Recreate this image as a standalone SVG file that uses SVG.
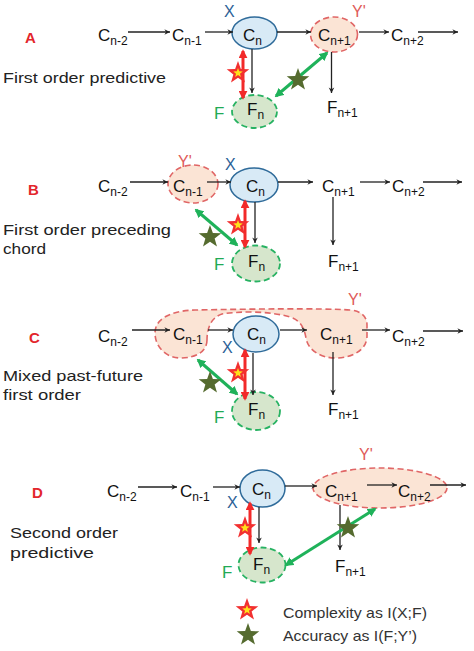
<svg xmlns="http://www.w3.org/2000/svg" xmlns:xlink="http://www.w3.org/1999/xlink" width="474" height="651" viewBox="0 0 474 651">
<defs>
<style>
text{font-family:"Liberation Sans",Arial,sans-serif}
.lbl{font-size:17px;fill:#111}
.sub{font-size:12px}
.pl{font-size:15px;font-weight:bold;fill:#e3262c}
.desc{font-size:15.5px;fill:#222}
.xl{font-size:16px;fill:#2c5f97}
.yl{font-size:16px;fill:#e05a5a}
.fl{font-size:17px;fill:#22aa55}
.leg{font-size:14.5px;fill:#333}
.ar{stroke:#222;stroke-width:1.3;fill:none;marker-end:url(#ah)}
.red{stroke:#f22a2a;stroke-width:3;fill:none;marker-start:url(#rh);marker-end:url(#rh)}
.grn{stroke:#1fb25a;stroke-width:3;fill:none;marker-start:url(#gh);marker-end:url(#gh)}
.ce{fill:#d8eaf6;stroke:#2f6b9a;stroke-width:1.5}
.ye{fill:#fbe4d5;stroke:#e06666;stroke-width:1.6;stroke-dasharray:6 3.5}
.fe{fill:#d6e6cc;stroke:#27b262;stroke-width:1.8;stroke-dasharray:6 3.5}
</style>
<marker id="ah" viewBox="0 0 10 10" refX="9" refY="5" markerWidth="7" markerHeight="7" orient="auto" markerUnits="userSpaceOnUse">
<path d="M1,1 L9,5 L1,9 L3.5,5 z" fill="#222"/>
</marker>
<marker id="rh" viewBox="0 0 10 10" refX="8" refY="5" markerWidth="9" markerHeight="9" orient="auto-start-reverse" markerUnits="userSpaceOnUse">
<path d="M0,0 L10,5 L0,10 z" fill="#f22a2a"/>
</marker>
<marker id="gh" viewBox="0 0 10 10" refX="8" refY="5" markerWidth="9" markerHeight="9" orient="auto-start-reverse" markerUnits="userSpaceOnUse">
<path d="M0,0 L10,5 L0,10 z" fill="#1fb25a"/>
</marker>
<polygon id="star" points="0,-11 2.65,-3.64 10.46,-3.4 4.28,1.39 6.47,8.9 0,4.5 -6.47,8.9 -4.28,1.39 -10.46,-3.4 -2.65,-3.64"/>
<g id="rstar"><use xlink:href="#star" href="#star" fill="#f23030" transform="scale(1.08)"/><use xlink:href="#star" href="#star" fill="#ffe21a" transform="scale(0.45)"/></g>
<g id="gstar"><use xlink:href="#star" href="#star" fill="#556b2f" transform="scale(1.08)"/></g>
</defs>
<rect width="474" height="651" fill="#fff"/>

<!-- Panel A -->
<g id="panelA">
<text class="pl" x="25" y="43">A</text>
<text class="desc" x="3" y="83" textLength="163" lengthAdjust="spacingAndGlyphs">First order predictive</text>
<g id="A-Cn-2"><text class="lbl" x="98" y="41">C<tspan class="sub" dy="4">n-2</tspan></text></g>
<g id="A-Cn-1"><text class="lbl" x="172" y="41">C<tspan class="sub" dy="4">n-1</tspan></text></g>
<g id="A-Cn"><ellipse class="ce" cx="254.5" cy="33" rx="22.5" ry="16"/><text class="lbl" x="243" y="41">C<tspan class="sub" dy="4">n</tspan></text><text class="xl" x="224" y="17">X</text></g>
<g id="A-Cn+1"><ellipse class="ye" cx="334" cy="34.5" rx="23.5" ry="17.5"/><text class="lbl" x="318" y="41">C<tspan class="sub" dy="4">n+1</tspan></text><text class="yl" x="352" y="17">Y'</text></g>
<g id="A-Cn+2"><text class="lbl" x="391" y="41">C<tspan class="sub" dy="4">n+2</tspan></text></g>
<g id="A-Fn"><ellipse class="fe" cx="254.5" cy="111.5" rx="22.5" ry="16.5"/><text class="lbl" x="247" y="115">F<tspan class="sub" dy="4">n</tspan></text><text class="fl" x="214" y="119">F</text></g>
<g id="A-Fn+1"><text class="lbl" x="327" y="113">F<tspan class="sub" dy="4">n+1</tspan></text></g>
</g>

<!-- Panel B -->
<g id="panelB">
<text class="pl" x="28" y="195">B</text>
<text class="desc" x="3" y="235" textLength="168" lengthAdjust="spacingAndGlyphs">First order preceding</text>
<text class="desc" x="3" y="254" textLength="43" lengthAdjust="spacingAndGlyphs">chord</text>
<g id="B-Cn-2"><text class="lbl" x="98" y="192">C<tspan class="sub" dy="4">n-2</tspan></text></g>
<g id="B-Cn-1"><ellipse class="ye" cx="193" cy="184" rx="25" ry="19"/><text class="lbl" x="173" y="192">C<tspan class="sub" dy="4">n-1</tspan></text><text class="yl" x="178" y="167">Y'</text></g>
<g id="B-Cn"><ellipse class="ce" cx="254" cy="185" rx="24" ry="17"/><text class="lbl" x="246" y="192">C<tspan class="sub" dy="4">n</tspan></text><text class="xl" x="225" y="170">X</text></g>
<g id="B-Cn+1"><text class="lbl" x="322" y="192">C<tspan class="sub" dy="4">n+1</tspan></text></g>
<g id="B-Cn+2"><text class="lbl" x="392" y="192">C<tspan class="sub" dy="4">n+2</tspan></text></g>
<g id="B-Fn"><ellipse class="fe" cx="256" cy="263.5" rx="24" ry="18"/><text class="lbl" x="248" y="267">F<tspan class="sub" dy="4">n</tspan></text><text class="fl" x="214" y="270">F</text></g>
<g id="B-Fn+1"><text class="lbl" x="328" y="267">F<tspan class="sub" dy="4">n+1</tspan></text></g>
</g>

<!-- Panel C -->
<g id="panelC">
<text class="pl" x="29" y="343">C</text>
<text class="desc" x="3" y="381" textLength="140" lengthAdjust="spacingAndGlyphs">Mixed past-future</text>
<text class="desc" x="3" y="400" textLength="78" lengthAdjust="spacingAndGlyphs">first order</text>
<g id="C-Y"><path class="ye" d="M207,340 C207,352 195,358 181,358 C165,358 155,346 155,333 C155,320 168,311 195,310 C250,309 320,308 350,310 C362,311 367,317 367,325 L367,336 C367,350 352,358 336,358 C320,358 308,350 306,338 C304,327 300,320 290,317 C270,311 240,311 222,314 C212,317 207,327 207,340 Z"/><text class="yl" x="348" y="305">Y'</text></g>
<g id="C-Cn-2"><text class="lbl" x="98" y="342">C<tspan class="sub" dy="4">n-2</tspan></text></g>
<g id="C-Cn-1"><text class="lbl" x="173" y="340">C<tspan class="sub" dy="4">n-1</tspan></text></g>
<g id="C-Cn"><ellipse class="ce" cx="256" cy="334" rx="23" ry="18"/><text class="lbl" x="247" y="340">C<tspan class="sub" dy="4">n</tspan></text><text class="xl" x="222" y="353">X</text></g>
<g id="C-Cn+1"><text class="lbl" x="320" y="340">C<tspan class="sub" dy="4">n+1</tspan></text></g>
<g id="C-Cn+2"><text class="lbl" x="392" y="342">C<tspan class="sub" dy="4">n+2</tspan></text></g>
<g id="C-Fn"><ellipse class="fe" cx="256" cy="411" rx="24" ry="19"/><text class="lbl" x="248" y="415">F<tspan class="sub" dy="4">n</tspan></text><text class="fl" x="214" y="423">F</text></g>
<g id="C-Fn+1"><text class="lbl" x="328" y="415">F<tspan class="sub" dy="4">n+1</tspan></text></g>
</g>

<!-- Panel D -->
<g id="panelD">
<text class="pl" x="32" y="498">D</text>
<text class="desc" x="10" y="538" textLength="108" lengthAdjust="spacingAndGlyphs">Second order</text>
<text class="desc" x="10" y="558" textLength="84" lengthAdjust="spacingAndGlyphs">predictive</text>
<g id="D-Cn-2"><text class="lbl" x="107" y="497">C<tspan class="sub" dy="4">n-2</tspan></text></g>
<g id="D-Cn-1"><text class="lbl" x="180" y="497">C<tspan class="sub" dy="4">n-1</tspan></text></g>
<g id="D-Cn"><ellipse class="ce" cx="262.5" cy="488.5" rx="22.5" ry="18.5"/><text class="lbl" x="252" y="495">C<tspan class="sub" dy="4">n</tspan></text><text class="xl" x="227" y="508">X</text></g>
<g id="D-Y"><ellipse class="ye" cx="380" cy="488" rx="67" ry="20"/><text class="yl" x="359" y="460">Y'</text></g>
<g id="D-Cn+1"><text class="lbl" x="325" y="497">C<tspan class="sub" dy="4">n+1</tspan></text></g>
<g id="D-Cn+2"><text class="lbl" x="398" y="497">C<tspan class="sub" dy="4">n+2</tspan></text></g>
<g id="D-Fn"><ellipse class="fe" cx="262" cy="565" rx="23.5" ry="17.5"/><text class="lbl" x="253" y="570">F<tspan class="sub" dy="4">n</tspan></text><text class="fl" x="222" y="578">F</text></g>
<g id="D-Fn+1"><text class="lbl" x="335" y="572">F<tspan class="sub" dy="4">n+1</tspan></text></g>
</g>

<!-- Connectors -->
<g id="connectors">
<!-- A -->
<line class="ar" x1="128" y1="32" x2="170" y2="32"/>
<line class="ar" x1="205" y1="32" x2="233" y2="32"/>
<line class="ar" x1="277" y1="32" x2="311" y2="32"/>
<line class="ar" x1="359" y1="32" x2="389" y2="32"/>
<line class="ar" x1="418" y1="32" x2="458" y2="32"/>
<line class="ar" x1="252" y1="49" x2="252" y2="93"/>
<line class="ar" x1="331.5" y1="52" x2="331.5" y2="93"/>
<line class="red" x1="243" y1="51" x2="243" y2="98"/>
<line class="grn" x1="327" y1="53" x2="276" y2="96"/>
<!-- B -->
<line class="ar" x1="130" y1="182" x2="168" y2="182"/>
<line class="ar" x1="207" y1="182" x2="231" y2="182"/>
<line class="ar" x1="278" y1="182" x2="313" y2="182"/>
<line class="ar" x1="360" y1="182" x2="390" y2="182"/>
<line class="ar" x1="423" y1="182" x2="462" y2="182"/>
<line class="ar" x1="255" y1="202" x2="255" y2="243"/>
<line class="ar" x1="333" y1="197" x2="333" y2="245"/>
<line class="red" x1="245" y1="201" x2="245" y2="247"/>
<line class="grn" x1="196" y1="210" x2="237" y2="245"/>
<!-- C -->
<line class="ar" x1="132" y1="330" x2="170" y2="330"/>
<line class="ar" x1="208" y1="330" x2="233" y2="330"/>
<line class="ar" x1="280" y1="330" x2="307" y2="330"/>
<line class="ar" x1="362" y1="330" x2="390" y2="330"/>
<line class="ar" x1="423" y1="331" x2="463" y2="331"/>
<line class="ar" x1="253" y1="353" x2="253" y2="395"/>
<line class="ar" x1="333" y1="352" x2="333" y2="395"/>
<line class="red" x1="245" y1="350" x2="245" y2="399"/>
<line class="grn" x1="198" y1="360" x2="237" y2="394"/>
<!-- D -->
<line class="ar" x1="138" y1="487" x2="177" y2="487"/>
<line class="ar" x1="213" y1="487" x2="240" y2="487"/>
<line class="ar" x1="285" y1="486" x2="317" y2="486"/>
<line class="ar" x1="367" y1="485" x2="397" y2="485"/>
<line class="ar" x1="430" y1="485" x2="466" y2="485"/>
<line class="ar" x1="259" y1="507" x2="259" y2="543"/>
<line class="ar" x1="340" y1="505" x2="340" y2="550"/>
<line class="red" x1="250" y1="503" x2="250" y2="554"/>
<line class="grn" x1="375" y1="509" x2="286" y2="565"/>
</g>

<!-- Stars -->
<g id="stars">
<use xlink:href="#rstar" href="#rstar" x="238" y="73"/>
<use xlink:href="#gstar" href="#gstar" x="298" y="80"/>
<use xlink:href="#rstar" href="#rstar" x="238" y="225"/>
<use xlink:href="#gstar" href="#gstar" x="210" y="237"/>
<use xlink:href="#rstar" href="#rstar" x="238" y="373"/>
<use xlink:href="#gstar" href="#gstar" x="210" y="383"/>
<use xlink:href="#rstar" href="#rstar" x="245" y="528"/>
<use xlink:href="#gstar" href="#gstar" x="348" y="528"/>
</g>

<!-- Legend -->
<g id="legend">
<use xlink:href="#rstar" href="#rstar" x="247" y="610"/>
<text class="leg" x="283" y="618" textLength="144" lengthAdjust="spacingAndGlyphs">Complexity as I(X;F)</text>
<use xlink:href="#gstar" href="#gstar" x="248" y="635"/>
<text class="leg" x="283" y="641" textLength="134" lengthAdjust="spacingAndGlyphs">Accuracy as I(F;Y’)</text>
</g>
</svg>
